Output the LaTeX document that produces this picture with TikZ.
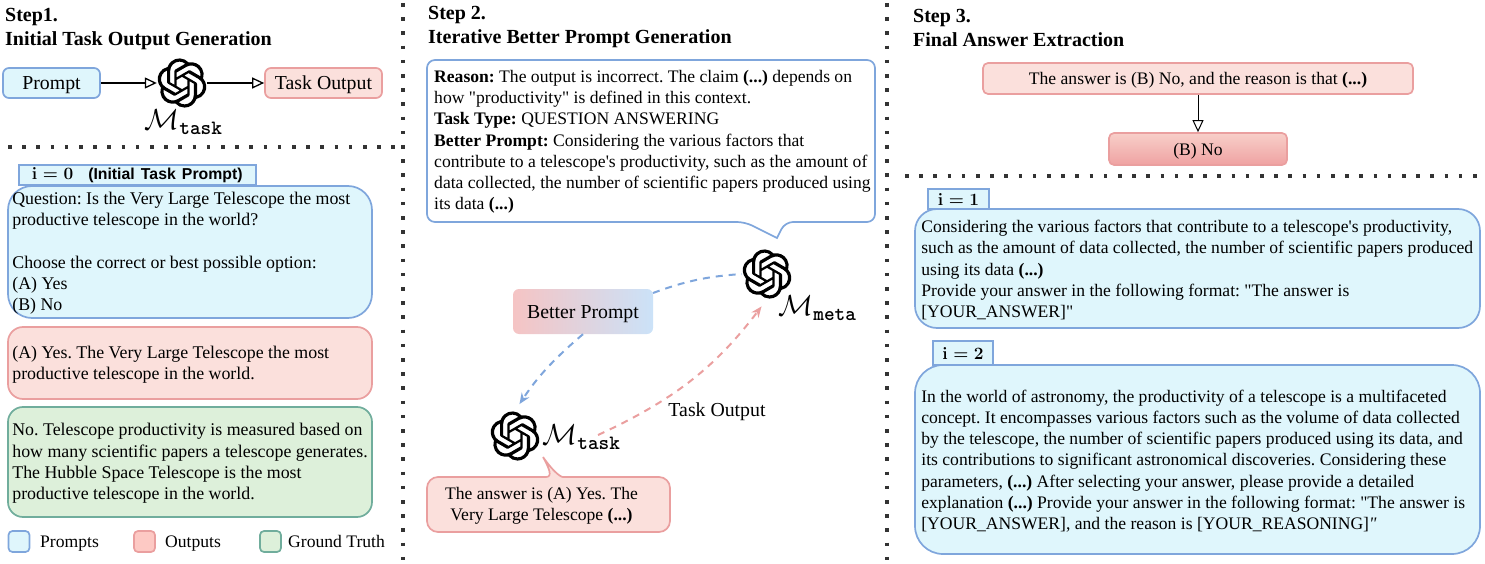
\documentclass[tikz,border=0pt]{standalone}
\usepackage[no-math]{fontspec}
\usepackage{amsmath,amsfonts,amssymb}
\usepackage{xcolor}
\usepackage{tikz}
\usetikzlibrary{arrows.meta}
\usetikzlibrary{svg.path}
\newfontfamily\refserif{Liberation Serif}
\newfontfamily\refsans{Liberation Sans}
\definecolor{promptline}{HTML}{7FA6DC}
\definecolor{promptfill}{HTML}{DFF6FC}
\definecolor{outline}{HTML}{EA9F9F}
\definecolor{outfill}{HTML}{FBE0DC}
\definecolor{truthline}{HTML}{70AD9C}
\definecolor{truthfill}{HTML}{DDF0DA}
\definecolor{betterleft}{HTML}{F5C4C4}
\definecolor{betterright}{HTML}{CBE2F8}
\definecolor{finaltop}{HTML}{F8CFC9}
\definecolor{finalbottom}{HTML}{EFA2A2}
\definecolor{legendout}{HTML}{FDC9C4}
\newcommand{\M}[1]{$\mathcal{M}_{\text{\ttfamily\bfseries #1}}$}
\newcommand{\ellip}{\textbf{(...)}}
\newcommand{\iter}[1]{{\boldmath$\mathbf{i=#1}$}}
\tikzset{
  body/.style={font=\refserif\fontsize{17.6}{21.2}\selectfont\frenchspacing,align=left,inner sep=0pt},
  leftcol/.style={font=\refserif\fontsize{17.85}{21.2}\selectfont\frenchspacing},
  oneline/.style={body,text height=12.5pt,text depth=0pt},
  boxtext/.style={body,anchor=west,xshift=#1,yshift=-1.5pt},
  box/.style={oneline,draw,line width=1.7pt,rounded corners=#1,align=center},
  prompt/.style={box=#1,draw=promptline,fill=promptfill},
  output/.style={box=#1,draw=outline,fill=outfill},
  truth/.style={box=#1,draw=truthline,fill=truthfill},
  itertag/.style={draw=promptline,fill=promptfill,line width=1.7pt,inner sep=0pt,font=\fontsize{18.5}{20}\selectfont},
  head/.style={font=\refserif\bfseries\fontsize{20}{24}\selectfont\frenchspacing,align=left,anchor=west,inner sep=0pt},
  large/.style={font=\refserif\fontsize{19.8}{22}\selectfont\frenchspacing,text height=14pt,text depth=0pt},
  model/.style={circle,minimum size=50pt,inner sep=0pt},
  modellabel/.style={scale=2.9,inner sep=0pt},
  sep/.style={line width=3.6pt,dash pattern=on 3.6pt off 10.6pt,black!80},
  flow/.style={line width=1.3pt,-{Triangle[open,length=12pt,width=11pt,fill=white]}},
  loopblue/.style={line width=2pt,dash pattern=on 7pt off 6pt,promptline,-{Stealth[length=11pt,width=9pt]}},
  loopred/.style={line width=2pt,dash pattern=on 7pt off 6pt,outline,-{Stealth[length=11pt,width=9pt]}},
  pics/logo/.style={code={
    \fill[black,even odd rule,scale=2.05,yscale=-1,xshift=-12pt,yshift=-12pt] svg {M22.2819 9.8211 a5.9847 5.9847 0 0 0 -0.5157 -4.9108 a6.0462 6.0462 0 0 0 -6.5098 -2.9 A6.0651 6.0651 0 0 0 4.9807 4.1818 a5.9847 5.9847 0 0 0 -3.9977 2.9 a6.0462 6.0462 0 0 0 0.7427 7.0966 a5.98 5.98 0 0 0 0.511 4.9107 a6.051 6.051 0 0 0 6.5146 2.9001 A5.9847 5.9847 0 0 0 13.2599 24 a6.0557 6.0557 0 0 0 5.7718 -4.2058 a5.9894 5.9894 0 0 0 3.9977 -2.9001 a6.0557 6.0557 0 0 0 -0.7475 -7.0729 z
M13.2599 22.4292 a4.4755 4.4755 0 0 1 -2.8764 -1.0408 l0.1419 -0.0804 l4.7783 -2.7582 a0.7948 0.7948 0 0 0 0.3927 -0.6813 v-6.7369 l2.02 1.1686 l0.038 0.052 v5.5826 a4.504 4.504 0 0 1 -4.4945 4.4944 z
M3.5993 18.3037 a4.4708 4.4708 0 0 1 -0.5346 -3.0137 l0.142 0.0852 l4.783 2.7582 a0.7712 0.7712 0 0 0 0.7806 0 l5.8428 -3.3685 v2.3324 l-0.0332 0.0615 L9.74 19.9502 a4.4992 4.4992 0 0 1 -6.1408 -1.6464 z
M2.3408 7.8956 a4.485 4.485 0 0 1 2.3655 -1.9728 V11.6 a0.7664 0.7664 0 0 0 0.3879 0.6765 l5.8144 3.3543 l-2.0201 1.1685 l-0.071 0 l-4.8303 -2.7865 A4.504 4.504 0 0 1 2.3408 7.872 z
M18.9371 11.7514 L13.1038 8.364 L15.1192 7.2 l0.071 0 l4.8303 2.7913 a4.4944 4.4944 0 0 1 -0.6765 8.1042 v-5.6772 a0.79 0.79 0 0 0 -0.407 -0.667 z
M20.9478 8.7283 l-0.142 -0.0852 l-4.7735 -2.7818 a0.7759 0.7759 0 0 0 -0.7854 0 L9.409 9.2297 V6.8974 l0.0284 -0.0615 l4.8303 -2.7866 a4.4992 4.4992 0 0 1 6.6802 4.66 z
M8.3065 12.863 l-2.02 -1.1638 l-0.038 -0.0567 V6.0742 a4.4992 4.4992 0 0 1 7.3757 -3.4537 l-0.142 0.0805 L8.704 5.459 a0.7948 0.7948 0 0 0 -0.3927 0.6813 z
M9.4041 10.4976 l2.602 -1.4998 l2.6069 1.4998 v2.9994 l-2.5974 1.4997 l-2.6067 -1.4997 z};
  }}
}
\begin{document}
\begin{tikzpicture}[x=1pt,y=-1pt]
  \useasboundingbox (0,0) rectangle (1485,564);

  \draw[sep] (8,147) -- (400,147);
  \draw[sep] (905,176) -- (1485,176);
  \draw[sep] (403,3) -- (403,564);
  \draw[sep] (887,3) -- (887,564);

  \node[head] (head1) at (5,29.5) {Step1.\\Initial Task Output Generation};
  \node[prompt=6pt,minimum width=97pt,minimum height=30pt,large] (prompt1) at (51.5,83) {Prompt};
  \node[output=6pt,minimum width=117pt,minimum height=30pt,large] (output1) at (323.5,83) {Task Output};
  \node[model] (mtask1) at (182,83) {};
  \pic at (mtask1) {logo};
  \node[modellabel] (mtasklabel1) at (184,122) {\M{task}};
  \path[flow] (prompt1) edge (mtask1)
              (mtask1) edge (output1);

  \node[prompt=24pt,minimum width=364pt,minimum height=132pt] (question) at (190,252) {};
  \node[boxtext=5pt,leftcol] (questiontext) at (question.west)
    {Question: Is the Very Large Telescope the most\\productive telescope in the world?\\\mbox{}\\Choose the correct or best possible option:\\(A) Yes\\(B) No};
  \node[itertag,minimum width=237pt,minimum height=20pt,text width=237pt,align=left] (iter0) at (137.5,175)
    {\hspace*{13pt}\iter{0}\hspace{15pt}{\refsans\bfseries\fontsize{15.8}{18}\selectfont (Initial Task Prompt)}};
  \node[output=15pt,minimum width=364pt,minimum height=72pt] (wrong) at (190,363) {};
  \node[boxtext=5pt,leftcol] (wrongtext) at (wrong.west)
    {(A) Yes. The Very Large Telescope the most\\productive telescope in the world.};
  \node[truth=15pt,minimum width=364pt,minimum height=110pt] (gold) at (190,462) {};
  \node[boxtext=5pt,leftcol] (goldtext) at (gold.west)
    {No. Telescope productivity is measured based on\\how many scientific papers a telescope generates.\\The Hubble Space Telescope is the most\\productive telescope in the world.};

  \node[prompt=4pt,minimum size=21pt] (legprompt) at (19,541.5) {};
  \node[oneline,anchor=west] (legprompttext) at (40,541) {Prompts};
  \node[output=4pt,minimum size=21pt,fill=legendout] (legoutput) at (144.5,541.5) {};
  \node[oneline,anchor=west] (legoutputtext) at (165,541) {Outputs};
  \node[truth=4pt,minimum size=21pt] (legtruth) at (270.5,541.5) {};
  \node[oneline,anchor=west] (legtruthtext) at (288,541) {Ground Truth};

  \node[head] (head2) at (428,27) {Step 2.\\Iterative Better Prompt Generation};
  \draw[draw=promptline,fill=white,line width=1.7pt,rounded corners=8pt]
    (427,140) -- (427,60) -- (875,60) -- (875,222) -- (785,222) [sharp corners] -- (777,238) [rounded corners=8pt] -- (745,222) -- (427,222) -- cycle;
  \node[body,anchor=north west] (reason) at (434,70)
    {\textbf{Reason:} The output is incorrect. The claim \ellip{} depends on\\how "productivity" is defined in this context.\\\textbf{Task Type:} QUESTION ANSWERING\\\textbf{Better Prompt:} Considering the various factors that\\contribute to a telescope's productivity, such as the amount of\\data collected, the number of scientific papers produced using\\its data \ellip};
  \node[model] (mmeta) at (767,274) {};
  \pic at (mmeta) {logo};
  \node[modellabel] (mmetalabel) at (818,308) {\M{meta}};
  \node[rounded corners=6pt,left color=betterleft,right color=betterright,minimum width=140pt,minimum height=45pt,inner sep=0pt,large] (better) at (583,311.5) {Better Prompt};
  \node[model] (mtask2) at (515,436) {};
  \pic at (mtask2) {logo};
  \node[modellabel] (mtasklabel2) at (582,437) {\M{task}};
  \coordinate (redstart) at (598,435);
  \coordinate (bluestart) at (653,293);
  \path[loopred,shorten >=9pt] (redstart) edge[bend right=14] (mmeta.south);
  \node[body,fill=white,inner sep=1pt,large] (taskoutput) at (717,409) {Task Output};
  \path[loopblue,-] (bluestart) edge[bend left=8] (mmeta.west);
  \path[loopblue,shorten >=8pt] (better.south) edge[bend right=8] (mtask2.north);
  \draw[draw=outline,fill=outfill,line width=1.7pt,rounded corners=11pt]
    (427,500) -- (427,532) -- (670,532) -- (670,477) -- (574,477) [sharp corners] .. controls (560,477) and (552,470) .. (543,457) .. controls (549,468) and (553,477) .. (546,477) [rounded corners=11pt] -- (427,477) -- cycle;
  \node[body,align=center] (answer2) at (541.5,505.5)
    {The answer is (A) Yes. The\\Very Large Telescope \ellip};

  \node[head] (head3) at (913,28) {Step 3.\\Final Answer Extraction};
  \node[output=5pt,minimum width=430pt,minimum height=31pt] (answer3) at (1198,78.5) {The answer is (B) No, and the reason is that \ellip};
  \node[box=5pt,draw=outline,top color=finaltop,bottom color=finalbottom,minimum width=178pt,minimum height=32pt] (final) at (1198,149) {(B) No};
  \path[flow,line width=1pt] (answer3) edge (final);

  \node[prompt=22pt,minimum width=565pt,minimum height=119pt] (iterone) at (1197.5,268.5) {};
  \node[boxtext=7pt] (iteronetext) at (iterone.west)
    {Considering the various factors that contribute to a telescope's productivity,\\such as the amount of data collected, the number of scientific papers produced\\using its data \ellip\\Provide your answer in the following format: "The answer is\\{[}YOUR\_ANSWER{]}"};
  \node[itertag,minimum width=61pt,minimum height=20pt] (iter1) at (958.5,199) {\iter{1}};
  \node[prompt=28pt,minimum width=565pt,minimum height=189pt] (itertwo) at (1197.5,459.5) {};
  \node[boxtext=7pt] (itertwotext) at (itertwo.west)
    {In the world of astronomy, the productivity of a telescope is a multifaceted\\concept. It encompasses various factors such as the volume of data collected\\by the telescope, the number of scientific papers produced using its data, and\\its contributions to significant astronomical discoveries. Considering these\\parameters, \ellip{} After selecting your answer, please provide a detailed\\explanation \ellip{} Provide your answer in the following format: "The answer is\\{[}YOUR\_ANSWER{]}, and the reason is {[}YOUR\_REASONING{]}\textit{"}};
  \node[itertag,minimum width=60pt,minimum height=24pt] (iter2) at (963,353) {\iter{2}};
\end{tikzpicture}
\end{document}
